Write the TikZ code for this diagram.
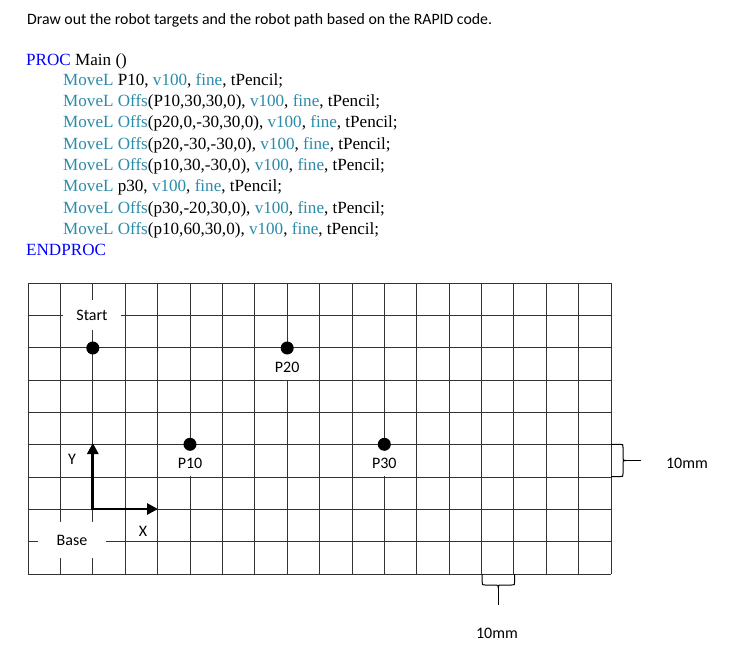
\documentclass[tikz,border=0pt]{standalone}
\usepackage{fontspec}
\usetikzlibrary{arrows.meta}
\setmainfont{Liberation Serif}
\newfontfamily\calib{Carlito}
\definecolor{kwblue}{RGB}{0,0,255}
\definecolor{kwteal}{RGB}{43,140,170}
\newcommand{\kb}[1]{\textcolor{kwblue}{#1}}
\newcommand{\kt}[1]{\textcolor{kwteal}{#1}}
\begin{document}
\begin{tikzpicture}[x=1pt,y=-1pt,
  gridline/.style={draw=black!80,line width=0.8pt},
  lbl/.style={font=\calib\fontsize{16}{18}\selectfont,inner sep=2pt},
  plbl/.style={lbl,fill=white,minimum width=38pt,minimum height=26pt},
  dot/.style={circle,fill=black,inner sep=0pt,minimum size=13pt},
  codeline/.style={anchor=west,inner sep=0pt,font=\fontsize{17.1}{21}\selectfont}]
\useasboundingbox[fill=white] (0,0) rectangle (732,665);
\node[anchor=west,inner sep=0pt,font=\calib\fontsize{15.8}{18}\selectfont] (title) at (27,20) {Draw out the robot targets and the robot path based on the RAPID code.};
\node[codeline] (c0) at (26,61) {\kb{PROC} Main ()};
\node[codeline] (c1) at (63,81) {\kt{MoveL} P10, \kt{v100}, \kt{fine}, tPencil;};
\node[codeline] (c2) at (63,102) {\kt{MoveL Offs}(P10,30,30,0), \kt{v100}, \kt{fine}, tPencil;};
\node[codeline] (c3) at (63,123) {\kt{MoveL Offs}(p20,0,-30,30,0), \kt{v100}, \kt{fine}, tPencil;};
\node[codeline] (c4) at (63,145) {\kt{MoveL Offs}(p20,-30,-30,0), \kt{v100}, \kt{fine}, tPencil;};
\node[codeline] (c5) at (63,166) {\kt{MoveL Offs}(p10,30,-30,0), \kt{v100}, \kt{fine}, tPencil;};
\node[codeline] (c6) at (63,187) {\kt{MoveL} p30, \kt{v100}, \kt{fine}, tPencil;};
\node[codeline] (c7) at (63,209) {\kt{MoveL Offs}(p30,-20,30,0), \kt{v100}, \kt{fine}, tPencil;};
\node[codeline] (c8) at (63,230) {\kt{MoveL Offs}(p10,60,30,0), \kt{v100}, \kt{fine}, tPencil;};
\node[codeline] (c9) at (26,250) {\kb{ENDPROC}};
% grid
\foreach \i in {0,...,18} \draw[gridline] ({28+\i*32.39},283) -- ({28+\i*32.39},574);
\foreach \j in {0,...,9} \draw[gridline] (28,{283+\j*32.33}) -- (611,{283+\j*32.33});
% labels
\node[lbl,fill=white,minimum width=58pt,minimum height=30pt] (start) at (92,315) {Start};
\node[lbl,fill=white,minimum width=68pt,minimum height=36pt] (base) at (72,540) {Base};
\node[plbl] (l10) at (190,463) {P10};
\node[plbl] (l20) at (287.2,367) {P20};
\node[plbl] (l30) at (384.3,463) {P30};
\node[dot] (s) at (92.8,348) {};
\node[dot] (p10) at (190,444.3) {};
\node[dot] (p20) at (287.2,348) {};
\node[dot] (p30) at (384.3,444.3) {};
\node[lbl] (ly) at (72,459) {Y};
\node[lbl] (lx) at (143,531) {X};
% axes
\coordinate (o) at (92.8,509);
\coordinate (yend) at (92.8,443);
\coordinate (xend) at (158,509);
\draw[line width=2.8pt,-{Triangle[length=11pt,width=11pt]}] (o) -- (yend);
\draw[line width=2.8pt,-{Triangle[length=11pt,width=11pt]}] ([xshift=-1.4pt]o) -- (xend);
% braces
\coordinate (rb1) at (611,444.3);
\coordinate (rb2) at (611,476.6);
\draw[line width=1pt] (rb1) -- (620,444.3) .. controls (623,444.3) .. (623,447.3) -- (623,457.5) .. controls (623,460.5) .. (626,460.5) .. controls (623,460.5) .. (623,463.5) -- (623,473.6) .. controls (623,476.6) .. (620,476.6) -- (rb2);
\draw[line width=1pt] (626,460.5) -- (641,460.5);
\node[lbl] (r10) at (687,463) {10mm};
\draw[line width=1pt] (482.2,574) -- ++(0,8) .. controls ++(0,3) .. ++(3,3) -- ++(10,0) .. controls ++(3,0) .. ++(3.2,3) .. controls ++(0,-3) .. ++(3.2,-3) -- ++(10,0) .. controls ++(3,0) .. ++(3,-3) -- (514.6,574);
\draw[line width=1pt] (498.4,588) -- (498.4,605);
\node[lbl] (b10) at (497,633) {10mm};
\end{tikzpicture}
\end{document}
